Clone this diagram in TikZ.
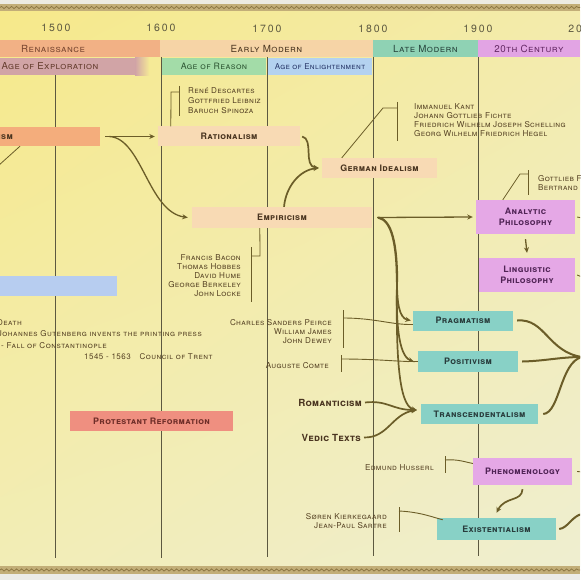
\documentclass[tikz,border=0pt]{standalone}
\usepackage{fontspec}
\setmainfont{TeX Gyre Heros}
\usetikzlibrary{arrows.meta,decorations.pathmorphing,shadings}
\definecolor{renc}{HTML}{F2B185}
\definecolor{emc}{HTML}{F6D4A6}
\definecolor{lmc}{HTML}{8FD2B4}
\definecolor{c20c}{HTML}{E2A4E4}
\definecolor{aexc}{HTML}{D1A4A6}
\definecolor{arc}{HTML}{A3DCA8}
\definecolor{aec}{HTML}{B4D2F0}
\definecolor{humc}{HTML}{F4AD7C}
\definecolor{peach}{HTML}{F8DAB4}
\definecolor{pinkc}{HTML}{E5A8E6}
\definecolor{tealc}{HTML}{88D1C6}
\definecolor{protc}{HTML}{EF8F80}
\definecolor{bluec}{HTML}{B7CDF0}
\definecolor{thc}{HTML}{564224}
\definecolor{blc}{HTML}{4A3520}
\definecolor{cc}{HTML}{6B5D28}
\definecolor{vlc}{HTML}{5C5840}
\definecolor{gold}{HTML}{C2AE78}
\definecolor{golddk}{HTML}{8A7440}
\definecolor{bgul}{HTML}{F6E98A}
\definecolor{bgur}{HTML}{F3EBAC}
\definecolor{bgll}{HTML}{F2EDB6}
\definecolor{bglr}{HTML}{EFEED0}
\definecolor{bgtop}{HTML}{ECEBE2}
\definecolor{bgbot}{HTML}{ECECE8}
\definecolor{fadec}{HTML}{F5E996}
\definecolor{rentx}{HTML}{784630}
\definecolor{lmtx}{HTML}{28463E}
\definecolor{pktx}{HTML}{642864}
\definecolor{aextx}{HTML}{643C2D}
\definecolor{artx}{HTML}{2D5532}
\definecolor{aetx}{HTML}{283769}
\definecolor{pbtx}{HTML}{502355}
\definecolor{tltx}{HTML}{283C3C}
\definecolor{prtx}{HTML}{6E2D28}
\begin{document}
\begin{tikzpicture}[x=1pt,y=-1pt,
  thk/.style={font=\fontsize{8.1}{9}\selectfont\scshape\addfontfeature{LetterSpace=4}, text=thc, inner sep=0pt},
  ev/.style={font=\fontsize{8}{9}\selectfont\scshape\addfontfeature{LetterSpace=6}, text=thc, inner sep=0pt},
  boxn/.style={inner sep=0pt, align=center, font=\fontsize{8.9}{11}\selectfont\bfseries\scshape\addfontfeature{LetterSpace=4}, text=blc},
  band/.style={inner sep=0pt, minimum height=17pt, font=\fontsize{9.8}{10}\selectfont\scshape\addfontfeature{LetterSpace=5}, text=blc},
  yr/.style={inner sep=0pt, font=\fontsize{10.5}{12}\selectfont\addfontfeature{LetterSpace=18}, text=vlc},
  big/.style={inner sep=0pt, font=\fontsize{9.8}{11}\selectfont\bfseries\scshape\addfontfeature{LetterSpace=3}, text=blc},
  vline/.style={draw=vlc, line width=0.8pt},
  conn/.style={draw=cc, line width=1.7pt, -{Stealth[length=5.5pt,width=5pt]}},
  connb/.style={draw=cc, line width=2pt},
  thin/.style={draw=cc, line width=0.9pt},
  brk/.style={draw=cc, line width=0.8pt}]
\useasboundingbox (0,0) rectangle (580,580);
\clip (0,0) rectangle (580,580);
% background
\fill[bgtop] (0,0) rectangle (580,580);
\shade[upper left=bgul, upper right=bgur, lower left=bgll, lower right=bglr] (0,11) rectangle (580,566);
% borders
\fill[gold] (0,4) rectangle (580,11);
\draw[golddk, line width=0.7pt, decorate, decoration={snake, amplitude=1.1pt, segment length=5pt}] (0,7.5) -- (580,7.5);
\fill[gold] (0,566) rectangle (580,574);
\draw[golddk, line width=0.7pt, decorate, decoration={snake, amplitude=1.1pt, segment length=5pt}] (0,570) -- (580,570);
\fill[bgbot] (0,574) rectangle (580,580);

% year labels
\node[yr] (y1500) at (56,28) {1500};
\node[yr] (y1600) at (161,28) {1600};
\node[yr] (y1700) at (267,29) {1700};
\node[yr] (y1800) at (373,29) {1800};
\node[yr] (y1900) at (478,29) {1900};
\node[yr] (y2000) at (583,29) {2000};

% vertical lines
\draw[vline] (55,75) -- (55,558);
\draw[vline] (161,57) -- (161,558);
\draw[vline] (267,57) -- (267,557);
\draw[vline] (373,40) -- (373,556);
\draw[vline] (478,40) -- (478,556);

% period bands
\node[band, fill=renc, minimum width=214pt, text=rentx] (ren) at (53,48.5) {Renaissance};
\node[band, fill=emc, minimum width=213pt] (emod) at (266.5,48.5) {Early Modern};
\node[band, fill=lmc, minimum width=105pt, text=lmtx] (lmod) at (425.5,48.5) {Late Modern};
\node[band, fill=c20c, minimum width=102pt, text=pktx] (c20) at (529,48.5) {20th Century};
\node[band, fill=aexc, minimum width=170pt, text=aextx, font=\fontsize{9.6}{10}\selectfont\scshape\addfontfeature{LetterSpace=5}] (aexp) at (50,66.5) {Age of Exploration};
\shade[left color=aexc, right color=fadec] (aexp.north east) rectangle ([xshift=14pt]aexp.south east);
\node[band, fill=arc, minimum width=104pt, text=artx, font=\fontsize{8.8}{10}\selectfont\scshape\addfontfeature{LetterSpace=5}] (arsn) at (214,66.5) {Age of Reason};
\node[band, fill=aec, minimum width=104pt, text=aetx, font=\fontsize{8}{10}\selectfont\scshape\addfontfeature{LetterSpace=4}] (aenl) at (320,66.5) {Age of Enlightenment};

% boxes
\node[boxn, fill=humc, minimum width=160pt, minimum height=19pt] (hum) at (20,136.5) {};
\node[boxn, anchor=base east] (humt) at (13,140) {Humanism};
\node[boxn, fill=peach, minimum width=142pt, minimum height=20pt] (rat) at (229,136.5) {Rationalism};
\node[boxn, fill=peach, minimum width=180pt, minimum height=21pt] (emp) at (282,217.5) {Empiricism};
\node[boxn, fill=peach, minimum width=115pt, minimum height=20pt] (gid) at (379.5,168) {German Idealism};
\node[boxn, fill=pinkc, minimum width=99pt, minimum height=34pt, text=pbtx] (ana) at (525.5,217) {Analytic\\Philosophy};
\node[boxn, fill=pinkc, minimum width=96pt, minimum height=34pt, text=pbtx] (lin) at (527,275) {Linguistic\\Philosophy};
\node[boxn, fill=tealc, minimum width=100pt, minimum height=20pt, text=tltx] (prag) at (463,320.5) {Pragmatism};
\node[boxn, fill=tealc, minimum width=100pt, minimum height=21pt, text=tltx] (pos) at (468,361.5) {Positivism};
\node[boxn, fill=tealc, minimum width=117pt, minimum height=20pt, text=tltx] (trans) at (479.5,414) {Transcendentalism};
\node[boxn, fill=pinkc, minimum width=99pt, minimum height=27pt, text=pbtx] (phen) at (522.5,471.5) {Phenomenology};
\node[boxn, fill=tealc, minimum width=119pt, minimum height=22pt, text=tltx] (exis) at (496.5,529) {Existentialism};
\node[boxn, fill=protc, minimum width=163pt, minimum height=20pt, text=prtx] (prot) at (151.5,421) {Protestant Reformation};
\node[boxn, fill=bluec, minimum width=127pt, minimum height=20pt] (blu) at (53.5,286) {};

% thinker groups
\foreach \t [count=\i from 0] in {René Descartes,Gottfried Leibniz,Baruch Spinoza}
  \node[thk, anchor=base west] (desc\i) at (188,{94+9.6*\i}) {\t};
\foreach \t [count=\i from 0] in {Immanuel Kant,Johann Gottlieb Fichte,Friedrich Wilhelm Joseph Schelling,Georg Wilhelm Friedrich Hegel}
  \node[thk, anchor=base west] (kant\i) at (414,{110+9*\i}) {\t};
\foreach \t [count=\i from 0] in {Gottlieb Frege,Bertrand Russell}
  \node[thk, anchor=base west] (fre\i) at (538,{181+9*\i}) {\t};
\foreach \t [count=\i from 0] in {Francis Bacon,Thomas Hobbes,David Hume,George Berkeley,John Locke}
  \node[thk, anchor=base east] (bac\i) at (241,{260+9.2*\i}) {\t};
\foreach \t [count=\i from 0] in {Charles Sanders Peirce,William James,John Dewey}
  \node[thk, anchor=base east] (pei\i) at (332,{325+9*\i}) {\t};
\node[thk, anchor=base east] (comte) at (329,368) {Auguste Comte};
\node[thk, anchor=base east] (hus) at (434,470) {Edmund Husserl};
\foreach \t [count=\i from 0] in {Søren Kierkegaard,Jean-Paul Sartre}
  \node[thk, anchor=base east] (kie\i) at (387,{519+9*\i}) {\t};
\node[big, anchor=base east] (rom) at (362,406) {Romanticism};
\node[big, anchor=base east] (ved) at (361,441) {Vedic Texts};

% events
\node[ev, anchor=base east] (ev1) at (22,325) {Death};
\node[ev, anchor=base east] (ev2) at (202,336) {Johannes Gutenberg invents the printing press};
\node[ev, anchor=base west, font=\fontsize{8.1}{9}\selectfont\scshape\addfontfeature{LetterSpace=6}] (ev3) at (1,348) {- Fall of Constantinople};
\node[ev, anchor=base west] (ev4) at (84,359) {1545 - 1563\hspace{9pt}Council of Trent};

% brackets
\draw[brk] (179,86) -- (179,116);
\draw[brk] (179,92) -- (171,92) -- ([xshift=13pt]rat.north west);
\draw[brk] (397,102) -- (397,141);
\draw[brk] (397,108) -- (383,108) -- ([xshift=20pt]gid.north west);
\draw[brk] (528,170) -- (528,195);
\draw[brk] (528,174) -- (520,174) -- ([xshift=27pt]ana.north west);
\draw[brk] (251,247) -- (251,302);
\draw[brk] (251,256) -- (260,256) -- ([xshift=68pt]emp.south west);
\draw[brk] (343,310) -- (343,348);
\draw[thin] (343,318) .. controls (375,318) and (392,325) .. ([yshift=-4pt]prag.west);
\draw[brk] (341,355) -- (341,372);
\draw[thin] (341,359) .. controls (380,359) and (400,362) .. (pos.west);
\draw[brk] (445,456) -- (445,473);
\draw[thin] (445,460) .. controls (458,459) and (465,462) .. ([yshift=8pt]phen.west);
\draw[brk] (399,507) -- (399,532);
\draw[thin] (399,511) .. controls (420,512) and (432,517) .. ([xshift=6pt,yshift=-2pt]exis.north west);
\coordinate (hl) at (-2,166);
\draw[brk] (hum.south) -- (hl);

% connectors
\draw[conn, line width=1.3pt] ([xshift=5pt]hum.east) -- ([xshift=-3pt]rat.west);
\draw[conn, line width=1.3pt] ([xshift=9pt]hum.east) .. controls (142,138) and (148,212) .. ([xshift=-4pt]emp.west);
\draw[conn] ([xshift=2pt]rat.east) .. controls (314,139) and (303,166) .. ([xshift=-3pt]gid.west);
\draw[conn] ([xshift=2pt]emp.north) .. controls (286,186) and (300,170) .. ([xshift=-3pt]gid.west);
\draw[conn, line width=1.3pt] ([xshift=5pt]emp.east) -- ([xshift=-3pt]ana.west);
\coordinate (tr) at (397,282);
\draw[connb, line width=2.3pt] ([xshift=6pt]emp.east) .. controls (392,220) and (397,245) .. (tr);
\draw[conn] (tr) .. controls (397,302) and (399,318) .. ([xshift=-2pt]prag.west);
\draw[conn] (tr) .. controls (396,320) and (398,356) .. ([xshift=-4pt]pos.west);
\draw[conn] (tr) .. controls (396,350) and (398,406) .. ([xshift=-4pt,yshift=4pt]trans.west);
\draw[conn] ([xshift=3pt]rom.east) .. controls (388,400) and (392,410) .. ([xshift=-4pt,yshift=4pt]trans.west);
\draw[conn] ([xshift=3pt]ved.east) .. controls (388,438) and (392,414) .. ([xshift=-4pt,yshift=4pt]trans.west);
\draw[conn, line width=1.3pt] ([yshift=-5pt]ana.south) -- ([yshift=5pt]lin.north);
\draw[conn] ([yshift=-4pt]phen.south) .. controls (522,502) and (505,496) .. ([yshift=5pt]exis.north);
\coordinate (rj) at (582,357);
\draw[connb] ([xshift=4pt]prag.east) .. controls (545,318) and (548,352) .. (rj);
\draw[connb] ([xshift=4pt]pos.east) .. controls (545,361) and (560,357) .. (rj);
\draw[connb] ([xshift=5pt]trans.east) .. controls (560,413) and (560,362) .. (rj);
\coordinate (rx) at (582,514);
\draw[connb] ([xshift=3pt]exis.east) .. controls (568,528) and (572,516) .. (rx);
\coordinate (t1) at (582,218);
\coordinate (t2) at (582,277);
\coordinate (t3) at (582,472);
\draw[thin] ([xshift=2pt]ana.east) -- (t1);
\draw[thin] ([xshift=2pt]lin.east) -- (t2);
\draw[thin] ([xshift=5pt]phen.east) -- (t3);
\end{tikzpicture}
\end{document}
